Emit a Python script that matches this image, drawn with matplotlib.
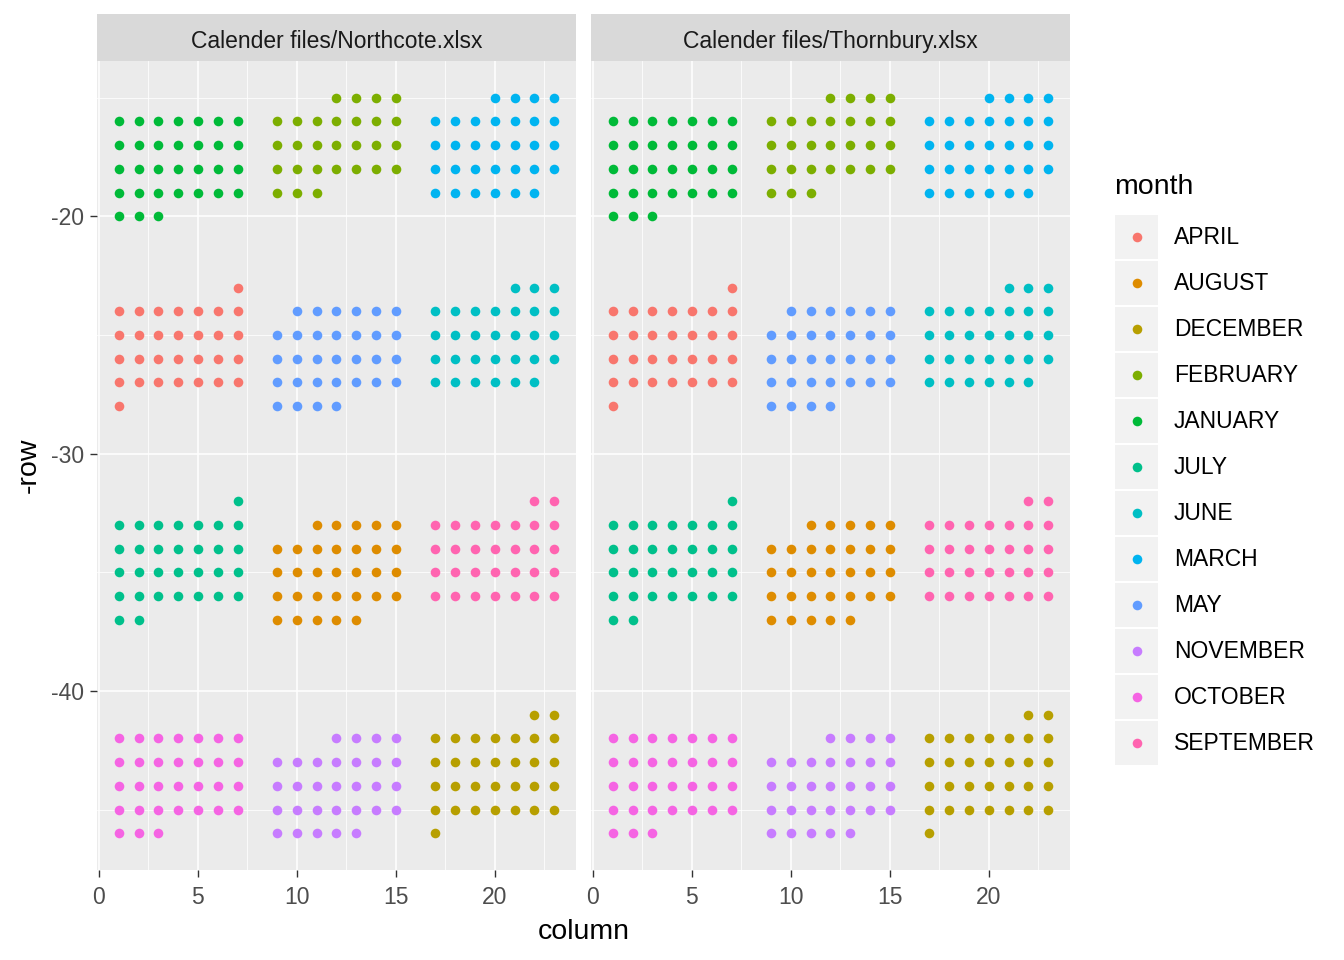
import matplotlib
matplotlib.use('Agg')
import matplotlib.pyplot as plt
from matplotlib.patches import Rectangle

plt.rcParams['font.family'] = ['Liberation Sans', 'DejaVu Sans']

# calendar layout: (row, first column, last column)
JANUARY = [(16, 1, 7), (17, 1, 7), (18, 1, 7), (19, 1, 7), (20, 1, 3)]
FEBRUARY = [(15, 12, 15), (16, 9, 15), (17, 9, 15), (18, 9, 15), (19, 9, 11)]
MARCH = [(15, 20, 23), (16, 17, 23), (17, 17, 23), (18, 17, 23), (19, 17, 22)]
APRIL = [(23, 7, 7), (24, 1, 7), (25, 1, 7), (26, 1, 7), (27, 1, 7), (28, 1, 1)]
MAY = [(24, 10, 15), (25, 9, 15), (26, 9, 15), (27, 9, 15), (28, 9, 12)]
JUNE = [(23, 21, 23), (24, 17, 23), (25, 17, 23), (26, 17, 23), (27, 17, 22)]
JULY = [(32, 7, 7), (33, 1, 7), (34, 1, 7), (35, 1, 7), (36, 1, 7), (37, 1, 2)]
AUGUST = [(33, 11, 15), (34, 9, 15), (35, 9, 15), (36, 9, 15), (37, 9, 13)]
SEPTEMBER = [(32, 22, 23), (33, 17, 23), (34, 17, 23), (35, 17, 23), (36, 17, 23)]
OCTOBER = [(42, 1, 7), (43, 1, 7), (44, 1, 7), (45, 1, 7), (46, 1, 3)]
NOVEMBER = [(42, 12, 15), (43, 9, 15), (44, 9, 15), (45, 9, 15), (46, 9, 13)]
DECEMBER = [(41, 22, 23), (42, 17, 23), (43, 17, 23), (44, 17, 23), (45, 17, 23), (46, 17, 17)]

MONTHS = ['APRIL', 'AUGUST', 'DECEMBER', 'FEBRUARY', 'JANUARY', 'JULY',
          'JUNE', 'MARCH', 'MAY', 'NOVEMBER', 'OCTOBER', 'SEPTEMBER']
SEGMENTS = [APRIL, AUGUST, DECEMBER, FEBRUARY, JANUARY, JULY,
            JUNE, MARCH, MAY, NOVEMBER, OCTOBER, SEPTEMBER]
COLORS = ['#F8766D', '#DE8C00', '#B79F00', '#7CAE00', '#00BA38', '#00C08B',
          '#00BFC4', '#00B4F0', '#619CFF', '#C77CFF', '#F564E3', '#FF64B0']
FILES = ['Calender files/Northcote.xlsx', 'Calender files/Thornbury.xlsx']

X_TICKS = [0, 5, 10, 15, 20]
Y_TICKS = [-20, -30, -40]

W, H = 1344, 960
fig = plt.figure(figsize=(W / 100, H / 100), dpi=100)


def px_axes(x0, y0, x1, y1):
    return fig.add_axes([x0 / W, 1 - y1 / H, (x1 - x0) / W, (y1 - y0) / H])


def points(segs):
    xs, ys = [], []
    for row, c0, c1 in segs:
        for c in range(c0, c1 + 1):
            xs.append(c)
            ys.append(-row)
    return xs, ys


panels = [(97, 576), (591, 1070)]
for i, (fname, (x0, x1)) in enumerate(zip(FILES, panels)):
    ax = px_axes(x0, 61, x1, 870)
    ax.set_facecolor('#EBEBEB')
    for s in ax.spines.values():
        s.set_visible(False)
    ax.set_xlim(-0.1, 24.1)
    ax.set_ylim(-47.55, -13.45)
    for v in [2.5, 7.5, 12.5, 17.5, 22.5]:
        ax.axvline(v, color='white', lw=0.55, zorder=0)
    for v in [-15, -25, -35, -45]:
        ax.axhline(v, color='white', lw=0.55, zorder=0)
    for v in X_TICKS:
        ax.axvline(v, color='white', lw=1.1, zorder=0)
    for v in Y_TICKS:
        ax.axhline(v, color='white', lw=1.1, zorder=0)
    for segs, col in zip(SEGMENTS, COLORS):
        xs, ys = points(segs)
        ax.scatter(xs, ys, s=48, color=col, linewidths=0, zorder=3)
    ax.set_xticks(X_TICKS)
    ax.set_xticklabels([str(t) for t in X_TICKS])
    ax.set_yticks(Y_TICKS)
    ax.set_yticklabels([str(t) for t in Y_TICKS])
    ax.tick_params(axis='both', length=5, width=1.0, color='#333333',
                   labelcolor='#4D4D4D', labelsize=16.5)
    ax.tick_params(axis='x', pad=6.5)
    ax.tick_params(axis='y', pad=4.5)
    if i > 0:
        ax.tick_params(axis='y', left=False, labelleft=False)

    sax = px_axes(x0, 14, x1, 61)
    sax.set_facecolor('#D9D9D9')
    sax.set_xticks([])
    sax.set_yticks([])
    for s in sax.spines.values():
        s.set_visible(False)
    sax.text(0.5, 0.41, fname, ha='center', va='center', fontsize=16.5,
             color='#1A1A1A', transform=sax.transAxes)

fig.text(583.5 / W, 1 - 932 / H, 'column', ha='center', va='center', fontsize=20.5)
fig.text(29 / W, 1 - 465.5 / H, '-row', ha='center', va='center', fontsize=20.5,
         rotation=90)

# legend
lax = px_axes(1100, 160, 1340, 780)
lax.set_xlim(1100, 1340)
lax.set_ylim(780, 160)
lax.axis('off')
lax.text(1114, 187, 'month', ha='left', va='center', fontsize=20.5)
for k, (name, col) in enumerate(zip(MONTHS, COLORS)):
    cy = 237 + 46 * k
    lax.add_patch(Rectangle((1115, cy - 22), 43, 44, facecolor='#F2F2F2',
                            edgecolor='none'))
    lax.scatter([1136.5], [cy], s=48, color=col, linewidths=0)
    lax.text(1174, cy + 1, name, ha='left', va='center', fontsize=16.5)

fig.savefig('out.png', dpi=100, facecolor='white')
